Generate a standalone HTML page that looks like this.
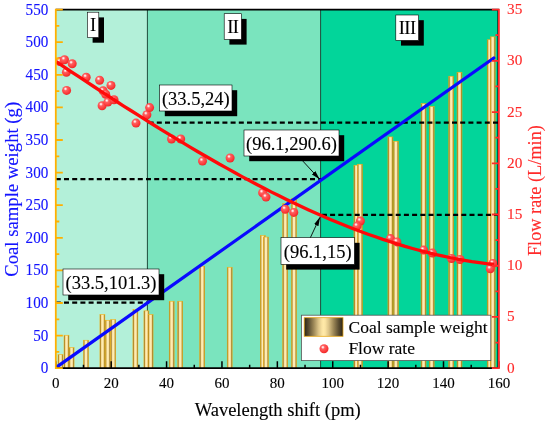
<!DOCTYPE html>
<html><head><meta charset="utf-8"><title>Chart</title>
<style>
html,body{margin:0;padding:0;background:#fff;}
svg{display:block;font-family:"Liberation Serif","Times New Roman",serif;}
text{stroke-width:0.12px;}
</style></head><body>
<svg width="550" height="424" viewBox="0 0 550 424">
<defs>
<linearGradient id="bar" x1="0" x2="1" y1="0" y2="0">
<stop offset="0" stop-color="#6b5014"/><stop offset="0.1" stop-color="#9a7a30"/><stop offset="0.26" stop-color="#ecd08a"/><stop offset="0.4" stop-color="#ffecb2"/><stop offset="0.6" stop-color="#ffecb2"/><stop offset="0.74" stop-color="#ecd08a"/><stop offset="0.9" stop-color="#9a7a30"/><stop offset="1" stop-color="#6b5014"/>
</linearGradient>
<linearGradient id="sw" x1="0" x2="1" y1="0" y2="0">
<stop offset="0" stop-color="#2a2316"/><stop offset="0.12" stop-color="#5e5033"/><stop offset="0.25" stop-color="#9f8a59"/><stop offset="0.37" stop-color="#dcc488"/><stop offset="0.46" stop-color="#fbe4a3"/><stop offset="0.5" stop-color="#ffe9a8"/><stop offset="0.54" stop-color="#fbe4a3"/><stop offset="0.63" stop-color="#dcc488"/><stop offset="0.75" stop-color="#9f8a59"/><stop offset="0.88" stop-color="#5e5033"/><stop offset="1" stop-color="#2a2316"/>
</linearGradient>
<radialGradient id="dot" cx="0.4" cy="0.36" r="0.68" fx="0.37" fy="0.32">
<stop offset="0" stop-color="#ffffff"/><stop offset="0.1" stop-color="#ffdede"/><stop offset="0.3" stop-color="#ff6060"/><stop offset="0.7" stop-color="#fc3c3c"/><stop offset="1" stop-color="#ea2424"/>
</radialGradient>
<marker id="arr" viewBox="0 0 9 4.8" refX="8.6" refY="2.4" markerWidth="9" markerHeight="4.8" orient="auto" markerUnits="userSpaceOnUse"><path d="M0,0 L9,2.4 L0,4.8 z" fill="#000"/></marker>
</defs>
<rect width="550" height="424" fill="#fff"/>
<rect x="55.8" y="9.6" width="91.60" height="358.59999999999997" fill="#b3f0d9"/>
<rect x="147.40" y="9.6" width="173.20" height="358.59999999999997" fill="#7ae4be"/>
<rect x="320.60" y="9.6" width="178.30" height="358.59999999999997" fill="#02d59a"/>
<path d="M147.40,9.6 V368.2 M320.60,9.6 V368.2" stroke="#1c4d3c" stroke-width="1" fill="none"/>
<g>
<rect x="58.05" y="354.65" width="4.9" height="13.8" fill="url(#bar)" stroke="#f7b212" stroke-width="0.6"/>
<rect x="64.05" y="335.25" width="4.9" height="33.2" fill="url(#bar)" stroke="#f7b212" stroke-width="0.6"/>
<rect x="69.15" y="347.65" width="4.9" height="20.8" fill="url(#bar)" stroke="#f7b212" stroke-width="0.6"/>
<rect x="83.55" y="340.25" width="4.9" height="28.2" fill="url(#bar)" stroke="#f7b212" stroke-width="0.6"/>
<rect x="99.95" y="314.65" width="4.9" height="53.8" fill="url(#bar)" stroke="#f7b212" stroke-width="0.6"/>
<rect x="105.35" y="320.25" width="4.9" height="48.2" fill="url(#bar)" stroke="#f7b212" stroke-width="0.6"/>
<rect x="110.75" y="319.65" width="4.9" height="48.8" fill="url(#bar)" stroke="#f7b212" stroke-width="0.6"/>
<rect x="132.95" y="309.65" width="4.9" height="58.8" fill="url(#bar)" stroke="#f7b212" stroke-width="0.6"/>
<rect x="143.95" y="310.85" width="4.9" height="57.6" fill="url(#bar)" stroke="#f7b212" stroke-width="0.6"/>
<rect x="148.15" y="314.65" width="4.9" height="53.8" fill="url(#bar)" stroke="#f7b212" stroke-width="0.6"/>
<rect x="169.25" y="301.25" width="4.9" height="67.2" fill="url(#bar)" stroke="#f7b212" stroke-width="0.6"/>
<rect x="177.75" y="301.25" width="4.9" height="67.2" fill="url(#bar)" stroke="#f7b212" stroke-width="0.6"/>
<rect x="199.75" y="266.25" width="4.9" height="102.2" fill="url(#bar)" stroke="#f7b212" stroke-width="0.6"/>
<rect x="227.25" y="267.25" width="4.9" height="101.2" fill="url(#bar)" stroke="#f7b212" stroke-width="0.6"/>
<rect x="260.35" y="235.55" width="4.9" height="132.9" fill="url(#bar)" stroke="#f7b212" stroke-width="0.6"/>
<rect x="263.50" y="237.05" width="4.9" height="131.4" fill="url(#bar)" stroke="#f7b212" stroke-width="0.6"/>
<rect x="282.75" y="203.55" width="4.9" height="164.9" fill="url(#bar)" stroke="#f7b212" stroke-width="0.6"/>
<rect x="291.55" y="198.25" width="4.9" height="170.2" fill="url(#bar)" stroke="#f7b212" stroke-width="0.6"/>
<rect x="353.95" y="165.25" width="4.9" height="203.2" fill="url(#bar)" stroke="#f7b212" stroke-width="0.6"/>
<rect x="357.55" y="164.25" width="4.9" height="204.2" fill="url(#bar)" stroke="#f7b212" stroke-width="0.6"/>
<rect x="387.95" y="136.95" width="4.9" height="231.5" fill="url(#bar)" stroke="#f7b212" stroke-width="0.6"/>
<rect x="393.45" y="141.25" width="4.9" height="227.2" fill="url(#bar)" stroke="#f7b212" stroke-width="0.6"/>
<rect x="421.10" y="103.65" width="4.9" height="264.8" fill="url(#bar)" stroke="#f7b212" stroke-width="0.6"/>
<rect x="429.25" y="106.65" width="4.9" height="261.8" fill="url(#bar)" stroke="#f7b212" stroke-width="0.6"/>
<rect x="448.75" y="76.25" width="4.9" height="292.2" fill="url(#bar)" stroke="#f7b212" stroke-width="0.6"/>
<rect x="457.05" y="72.25" width="4.9" height="296.2" fill="url(#bar)" stroke="#f7b212" stroke-width="0.6"/>
<rect x="487.25" y="39.75" width="4.9" height="328.7" fill="url(#bar)" stroke="#f7b212" stroke-width="0.6"/>
<rect x="490.30" y="36.85" width="4.9" height="331.6" fill="url(#bar)" stroke="#f7b212" stroke-width="0.6"/>
</g>
<g stroke="#000" stroke-width="2.2" stroke-dasharray="5 3.2" fill="none">
<path d="M55.8,302.6 H148.6"/>
<path d="M55.8,179.1 H321.9"/>
<path d="M148.6,122.7 H498.9"/>
<path d="M321.9,214.9 H498.9"/>
</g>
<path d="M57.6,366.4 L493.8,58" stroke="#0a0aff" stroke-width="3.2" stroke-linecap="round" fill="none"/>
<g>
<circle cx="59.8" cy="61.6" r="4.5" fill="url(#dot)"/>
<circle cx="64.5" cy="59.8" r="4.5" fill="url(#dot)"/>
<circle cx="72.2" cy="63.8" r="4.5" fill="url(#dot)"/>
<circle cx="66.4" cy="72.2" r="4.5" fill="url(#dot)"/>
<circle cx="66.6" cy="90.4" r="4.5" fill="url(#dot)"/>
<circle cx="86.2" cy="77.3" r="4.5" fill="url(#dot)"/>
<circle cx="99.6" cy="80.2" r="4.5" fill="url(#dot)"/>
<circle cx="111" cy="85.4" r="4.5" fill="url(#dot)"/>
<circle cx="103.1" cy="90.8" r="4.5" fill="url(#dot)"/>
<circle cx="105.7" cy="94.3" r="4.5" fill="url(#dot)"/>
<circle cx="102.1" cy="105.7" r="4.5" fill="url(#dot)"/>
<circle cx="107.9" cy="102.1" r="4.5" fill="url(#dot)"/>
<circle cx="114" cy="99.8" r="4.5" fill="url(#dot)"/>
<circle cx="136" cy="123.1" r="4.5" fill="url(#dot)"/>
<circle cx="146.9" cy="114.7" r="4.5" fill="url(#dot)"/>
<circle cx="149.6" cy="107.6" r="4.5" fill="url(#dot)"/>
<circle cx="171.5" cy="139" r="4.5" fill="url(#dot)"/>
<circle cx="180.7" cy="139" r="4.5" fill="url(#dot)"/>
<circle cx="202.5" cy="161.1" r="4.5" fill="url(#dot)"/>
<circle cx="230.1" cy="158" r="4.5" fill="url(#dot)"/>
<circle cx="262.6" cy="192.8" r="4.5" fill="url(#dot)"/>
<circle cx="266" cy="197.1" r="4.5" fill="url(#dot)"/>
<circle cx="285.2" cy="209.3" r="4.5" fill="url(#dot)"/>
<circle cx="293.8" cy="212.4" r="4.5" fill="url(#dot)"/>
<circle cx="360.4" cy="221" r="4.5" fill="url(#dot)"/>
<circle cx="357.1" cy="226.1" r="4.5" fill="url(#dot)"/>
<circle cx="390.4" cy="238.6" r="4.5" fill="url(#dot)"/>
<circle cx="396.9" cy="241.9" r="4.5" fill="url(#dot)"/>
<circle cx="423.6" cy="250.1" r="4.5" fill="url(#dot)"/>
<circle cx="432.4" cy="253.1" r="4.5" fill="url(#dot)"/>
<circle cx="451.5" cy="258.5" r="4.5" fill="url(#dot)"/>
<circle cx="460" cy="259.5" r="4.5" fill="url(#dot)"/>
<circle cx="493" cy="263.4" r="4.5" fill="url(#dot)"/>
<circle cx="490.3" cy="268.8" r="4.5" fill="url(#dot)"/>
</g>
<path d="M56.6,61.9 L64.0,66.8 L71.4,71.8 L78.8,76.7 L86.3,81.6 L93.7,86.5 L101.1,91.3 L108.5,96.2 L115.9,101.0 L123.3,105.8 L130.8,110.5 L138.2,115.2 L145.6,119.9 L153.0,124.5 L160.4,129.1 L167.8,133.7 L175.2,138.2 L182.7,142.7 L190.1,147.1 L197.5,151.5 L204.9,155.8 L212.3,160.0 L219.7,164.3 L227.2,168.4 L234.6,172.5 L242.0,176.6 L249.4,180.5 L256.8,184.5 L264.2,188.3 L271.6,192.1 L279.1,195.8 L286.5,199.4 L293.9,203.0 L301.3,206.5 L308.7,209.9 L316.1,213.2 L323.5,216.5 L331.0,219.7 L338.4,222.7 L345.8,225.7 L353.2,228.7 L360.6,231.5 L368.0,234.2 L375.5,236.8 L382.9,239.4 L390.3,241.8 L397.7,244.1 L405.1,246.4 L412.5,248.5 L419.9,250.5 L427.4,252.4 L434.8,254.3 L442.2,255.9 L449.6,257.5 L457.0,259.0 L464.4,260.3 L471.9,261.6 L479.3,262.7 L486.7,263.7 L494.1,264.5" stroke="#ff0a0a" stroke-width="3.3" stroke-linecap="butt" stroke-linejoin="round" fill="none"/>
<path d="M55.8,9.6 H498.9" stroke="#000" stroke-width="1.8" fill="none"/>
<path d="M55.8,368.2 H498.9" stroke="#000" stroke-width="1.8" fill="none"/>
<path d="M55.80,368.2 v-7 M83.49,368.2 v-3.5 M111.19,368.2 v-7 M138.88,368.2 v-3.5 M166.57,368.2 v-7 M194.27,368.2 v-3.5 M221.96,368.2 v-7 M249.66,368.2 v-3.5 M277.35,368.2 v-7 M305.04,368.2 v-3.5 M332.74,368.2 v-7 M360.43,368.2 v-3.5 M388.12,368.2 v-7 M415.82,368.2 v-3.5 M443.51,368.2 v-7 M471.21,368.2 v-3.5 M498.90,368.2 v-7" stroke="#000" stroke-width="1.5" fill="none"/>
<path d="M55.8,8.799999999999999 V369.0 M55.8,368.20 h7 M55.8,351.90 h3.5 M55.8,335.60 h7 M55.8,319.30 h3.5 M55.8,303.00 h7 M55.8,286.70 h3.5 M55.8,270.40 h7 M55.8,254.10 h3.5 M55.8,237.80 h7 M55.8,221.50 h3.5 M55.8,205.20 h7 M55.8,188.90 h3.5 M55.8,172.60 h7 M55.8,156.30 h3.5 M55.8,140.00 h7 M55.8,123.70 h3.5 M55.8,107.40 h7 M55.8,91.10 h3.5 M55.8,74.80 h7 M55.8,58.50 h3.5 M55.8,42.20 h7 M55.8,25.90 h3.5 M55.8,9.60 h7" stroke="#ffb000" stroke-width="1.8" fill="none"/>
<path d="M497.7,9.6 V368.2" stroke="#000" stroke-width="0.7" fill="none"/>
<path d="M498.9,8.799999999999999 V369.0 M498.9,368.20 h-7 M498.9,342.59 h-3.5 M498.9,316.97 h-7 M498.9,291.36 h-3.5 M498.9,265.74 h-7 M498.9,240.13 h-3.5 M498.9,214.51 h-7 M498.9,188.90 h-3.5 M498.9,163.29 h-7 M498.9,137.67 h-3.5 M498.9,112.06 h-7 M498.9,86.44 h-3.5 M498.9,60.83 h-7 M498.9,35.21 h-3.5 M498.9,9.60 h-7" stroke="#ff2a2a" stroke-width="1.8" fill="none"/>
<g font-size="15" fill="#000" stroke="#000" text-anchor="middle">
<text x="55.8" y="387.5">0</text>
<text x="111.2" y="387.5">20</text>
<text x="166.6" y="387.5">40</text>
<text x="222.0" y="387.5">60</text>
<text x="277.3" y="387.5">80</text>
<text x="332.7" y="387.5">100</text>
<text x="388.1" y="387.5">120</text>
<text x="443.5" y="387.5">140</text>
<text x="498.9" y="387.5">160</text>
</g>
<g font-size="16.4" fill="#1414ff" stroke="#1414ff" text-anchor="end">
<text transform="translate(48.3,373.2) scale(0.925,1)">0</text>
<text transform="translate(48.3,340.6) scale(0.925,1)">50</text>
<text transform="translate(48.3,308.0) scale(0.925,1)">100</text>
<text transform="translate(48.3,275.4) scale(0.925,1)">150</text>
<text transform="translate(48.3,242.8) scale(0.925,1)">200</text>
<text transform="translate(48.3,210.2) scale(0.925,1)">250</text>
<text transform="translate(48.3,177.6) scale(0.925,1)">300</text>
<text transform="translate(48.3,145.0) scale(0.925,1)">350</text>
<text transform="translate(48.3,112.4) scale(0.925,1)">400</text>
<text transform="translate(48.3,79.8) scale(0.925,1)">450</text>
<text transform="translate(48.3,47.2) scale(0.925,1)">500</text>
<text transform="translate(48.3,14.6) scale(0.925,1)">550</text>
</g>
<g font-size="15.3" fill="#ff2a2a" stroke="#ff2a2a" text-anchor="start">
<text x="507" y="372.6">0</text>
<text x="507" y="321.4">5</text>
<text x="507" y="270.1">10</text>
<text x="507" y="218.9">15</text>
<text x="507" y="167.7">20</text>
<text x="507" y="116.5">25</text>
<text x="507" y="65.2">30</text>
<text x="507" y="14.0">35</text>
</g>
<text x="277.7" y="416.4" font-size="18.5" text-anchor="middle" fill="#000" stroke="#000">Wavelength shift (pm)</text>
<text transform="translate(17.6,189.3) rotate(-90)" font-size="18.7" text-anchor="middle" fill="#1414ff" stroke="#1414ff">Coal sample weight (g)</text>
<text transform="translate(541.4,190.6) rotate(-90)" font-size="18.3" text-anchor="middle" fill="#ff2a2a" stroke="#ff2a2a">Flow rate (L/min)</text>
<rect x="92.60000000000001" y="17.4" width="11.399999999999991" height="25.3" fill="#000"/>
<rect x="87.4" y="12.2" width="11.399999999999991" height="25.3" fill="#fff" stroke="#000" stroke-width="0.6"/>
<text x="93.1" y="31.2" font-size="18.5" text-anchor="middle" fill="#000" stroke="#000">I</text>
<rect x="229.39999999999998" y="18.9" width="17.200000000000017" height="25.7" fill="#000"/>
<rect x="224.2" y="13.7" width="17.200000000000017" height="25.7" fill="#fff" stroke="#000" stroke-width="0.6"/>
<text x="232.8" y="33.0" font-size="18.5" text-anchor="middle" fill="#000" stroke="#000" letter-spacing="-0.5">II</text>
<rect x="401.0" y="20.2" width="22.80000000000001" height="25.4" fill="#000"/>
<rect x="395.8" y="15" width="22.80000000000001" height="25.4" fill="#fff" stroke="#000" stroke-width="0.6"/>
<text x="407.2" y="34.1" font-size="18.5" text-anchor="middle" fill="#000" stroke="#000" letter-spacing="-0.5">III</text>
<rect x="164.79999999999998" y="90.2" width="72.4" height="26" fill="#000"/>
<rect x="159.6" y="85" width="72.4" height="26" fill="#fff" stroke="#000" stroke-width="0.6"/>
<text x="195.8" y="104.6" font-size="18.5" text-anchor="middle" fill="#000" stroke="#000">(33.5,24)</text>
<rect x="249.2" y="135.2" width="95" height="26" fill="#000"/>
<rect x="244" y="130" width="95" height="26" fill="#fff" stroke="#000" stroke-width="0.6"/>
<text x="291.5" y="149.6" font-size="18.5" text-anchor="middle" fill="#000" stroke="#000">(96.1,290.6)</text>
<rect x="286.2" y="242.79999999999998" width="73.39999999999998" height="26.799999999999983" fill="#000"/>
<rect x="281" y="237.6" width="73.39999999999998" height="26.799999999999983" fill="#fff" stroke="#000" stroke-width="0.6"/>
<text x="317.7" y="257.6" font-size="18.5" text-anchor="middle" fill="#000" stroke="#000">(96.1,15)</text>
<rect x="68.2" y="274.2" width="96" height="26" fill="#000"/>
<rect x="63" y="269" width="96" height="26" fill="#fff" stroke="#000" stroke-width="0.6"/>
<text x="111.0" y="288.6" font-size="18.5" text-anchor="middle" fill="#000" stroke="#000">(33.5,101.3)</text>
<path d="M302.6,160.8 L319.4,179" stroke="#000" stroke-width="0.9" fill="none" marker-end="url(#arr)"/>
<path d="M310.4,237.6 L319.9,217.4" stroke="#000" stroke-width="0.9" fill="none" marker-end="url(#arr)"/>
<rect x="301.4" y="315.2" width="189.4" height="45.4" fill="#fff" stroke="#555" stroke-width="0.8"/>
<rect x="304.2" y="317.7" width="38.8" height="18.6" fill="url(#sw)" stroke="#e8a818" stroke-width="0.8"/>
<circle cx="324" cy="348.8" r="4.5" fill="url(#dot)"/>
<text x="348.5" y="333.2" font-size="17.5" fill="#000" stroke="#000">Coal sample weight</text>
<text x="348.4" y="354.2" font-size="17.5" fill="#000" stroke="#000">Flow rate</text>
</svg></body></html>
